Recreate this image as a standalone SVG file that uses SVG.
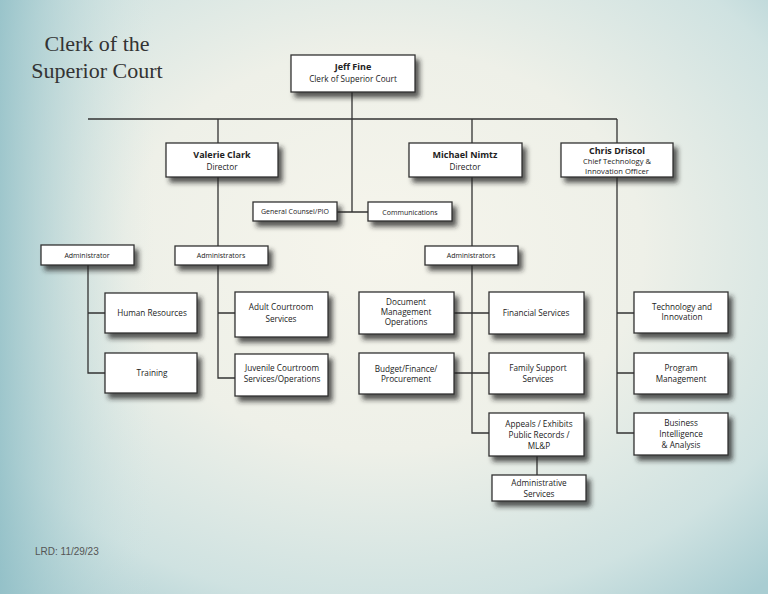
<svg xmlns="http://www.w3.org/2000/svg" width="768" height="594" viewBox="0 0 768 594">
<defs>
<radialGradient id="bg" cx="0.5" cy="0.42" r="0.75">
<stop offset="0" stop-color="#f6f5ec"/>
<stop offset="0.45" stop-color="#eef0e8"/>
<stop offset="0.8" stop-color="#cfe2e1"/>
<stop offset="1" stop-color="#a9cdd2"/>
</radialGradient>
<linearGradient id="lg" x1="0" y1="0" x2="1" y2="0">
<stop offset="0" stop-color="#8fbec6" stop-opacity="0.8"/>
<stop offset="0.2" stop-color="#cfe3e1" stop-opacity="0"/>
</linearGradient>
<filter id="sh" x="-20%" y="-20%" width="150%" height="180%">
<feDropShadow dx="4" dy="5" stdDeviation="2.5" flood-color="#222" flood-opacity="0.75"/>
</filter>
<style>
.b{fill:#fff;stroke:#333;stroke-width:1.3;filter:url(#sh)}
.t{font-family:"Open Sans","DejaVu Sans",sans-serif;font-size:8.2px;fill:#222;text-anchor:middle}
.s{font-size:7px}
.x{font-size:7.6px}
.n{font-weight:bold;font-size:9px}
.c{fill:none;stroke:#333;stroke-width:1.3}
</style>
</defs>
<rect width="768" height="594" fill="url(#bg)"/>
<rect width="768" height="594" fill="url(#lg)"/>
<text x="97" y="51" font-family="Liberation Serif,serif" font-size="22" fill="#333" text-anchor="middle">Clerk of the</text>
<text x="97" y="78" font-family="Liberation Serif,serif" font-size="22" fill="#333" text-anchor="middle">Superior Court</text>
<text x="35" y="555" font-family="Liberation Sans Narrow,Liberation Sans,sans-serif" font-size="10" fill="#555">LRD: 11/29/23</text>
<g id="connectors" class="c">
<path d="M352 92V212M253 212H368M88 119H617M218 119V143M472 119V143M617 119V143"/>
<path d="M88 245V373H105M88 313H105"/>
<path d="M218 177V378H235M218 313H235"/>
<path d="M472 177V433H489M454 313H489M454 373H489M537 456V475"/>
<path d="M617 177V433H634M617 313H634M617 373H634"/>
</g>
<g id="jeff"><rect class="b" x="291" y="55" width="124" height="37"/><text class="t n" x="353" y="70">Jeff Fine</text><text class="t" x="353" y="82">Clerk of Superior Court</text></g>
<g id="valerie"><rect class="b" x="166" y="143" width="112" height="34"/><text class="t n" x="222" y="158">Valerie Clark</text><text class="t" x="222" y="170">Director</text></g>
<g id="michael"><rect class="b" x="409" y="143" width="113" height="34"/><text class="t n" x="465" y="158">Michael Nimtz</text><text class="t" x="465" y="170">Director</text></g>
<g id="chris"><rect class="b" x="561" y="143" width="112" height="34"/><text class="t n" x="617" y="153.5">Chris Driscol</text><text class="t x" x="617" y="164">Chief Technology &amp;</text><text class="t x" x="617" y="173.5">Innovation Officer</text></g>
<g id="counsel"><rect class="b" x="253" y="202" width="84" height="19"/><text class="t s" x="295" y="214">General Counsel/PIO</text></g>
<g id="comm"><rect class="b" x="368" y="202" width="84" height="19"/><text class="t s" x="410" y="215">Communications</text></g>
<g id="admin1"><rect class="b" x="41" y="245" width="93" height="20"/><text class="t s" x="87" y="258">Administrator</text></g>
<g id="admin2"><rect class="b" x="175" y="246" width="93" height="19"/><text class="t s" x="221" y="258">Administrators</text></g>
<g id="admin3"><rect class="b" x="425" y="246" width="93" height="19"/><text class="t s" x="471" y="258">Administrators</text></g>
<g id="hr"><rect class="b" x="105" y="293" width="92" height="40"/><text class="t" x="152" y="316">Human Resources</text></g>
<g id="training"><rect class="b" x="105" y="353" width="92" height="40"/><text class="t" x="152" y="376">Training</text></g>
<g id="adult"><rect class="b" x="235" y="292" width="93" height="45"/><text class="t" x="281" y="310">Adult Courtroom</text><text class="t" x="281" y="322">Services</text></g>
<g id="juvenile"><rect class="b" x="235" y="354" width="93" height="42"/><text class="t" x="282" y="371">Juvenile Courtroom</text><text class="t" x="282" y="382">Services/Operations</text></g>
<g id="doc"><rect class="b" x="359" y="292" width="95" height="42"/><text class="t" x="406" y="305">Document</text><text class="t" x="406" y="315">Management</text><text class="t" x="406" y="325">Operations</text></g>
<g id="fin"><rect class="b" x="489" y="292" width="95" height="42"/><text class="t" x="536" y="316">Financial Services</text></g>
<g id="budget"><rect class="b" x="359" y="353" width="95" height="41"/><text class="t" x="406" y="372">Budget/Finance/</text><text class="t" x="406" y="382">Procurement</text></g>
<g id="family"><rect class="b" x="489" y="353" width="95" height="41"/><text class="t" x="538" y="371">Family Support</text><text class="t" x="538" y="382">Services</text></g>
<g id="appeals"><rect class="b" x="489" y="413" width="95" height="43"/><text class="t" x="539" y="427">Appeals / Exhibits</text><text class="t" x="539" y="438">Public Records /</text><text class="t" x="539" y="449">ML&amp;P</text></g>
<g id="adminsvc"><rect class="b" x="492" y="475" width="94" height="26"/><text class="t" x="539" y="486">Administrative</text><text class="t" x="539" y="497">Services</text></g>
<g id="tech"><rect class="b" x="634" y="292" width="94" height="41"/><text class="t" x="682" y="310">Technology and</text><text class="t" x="682" y="320">Innovation</text></g>
<g id="program"><rect class="b" x="634" y="353" width="94" height="41"/><text class="t" x="681" y="371">Program</text><text class="t" x="681" y="382">Management</text></g>
<g id="bi"><rect class="b" x="634" y="413" width="94" height="42"/><text class="t" x="681" y="426">Business</text><text class="t" x="681" y="437">Intelligence</text><text class="t" x="681" y="448">&amp; Analysis</text></g>
</svg>
